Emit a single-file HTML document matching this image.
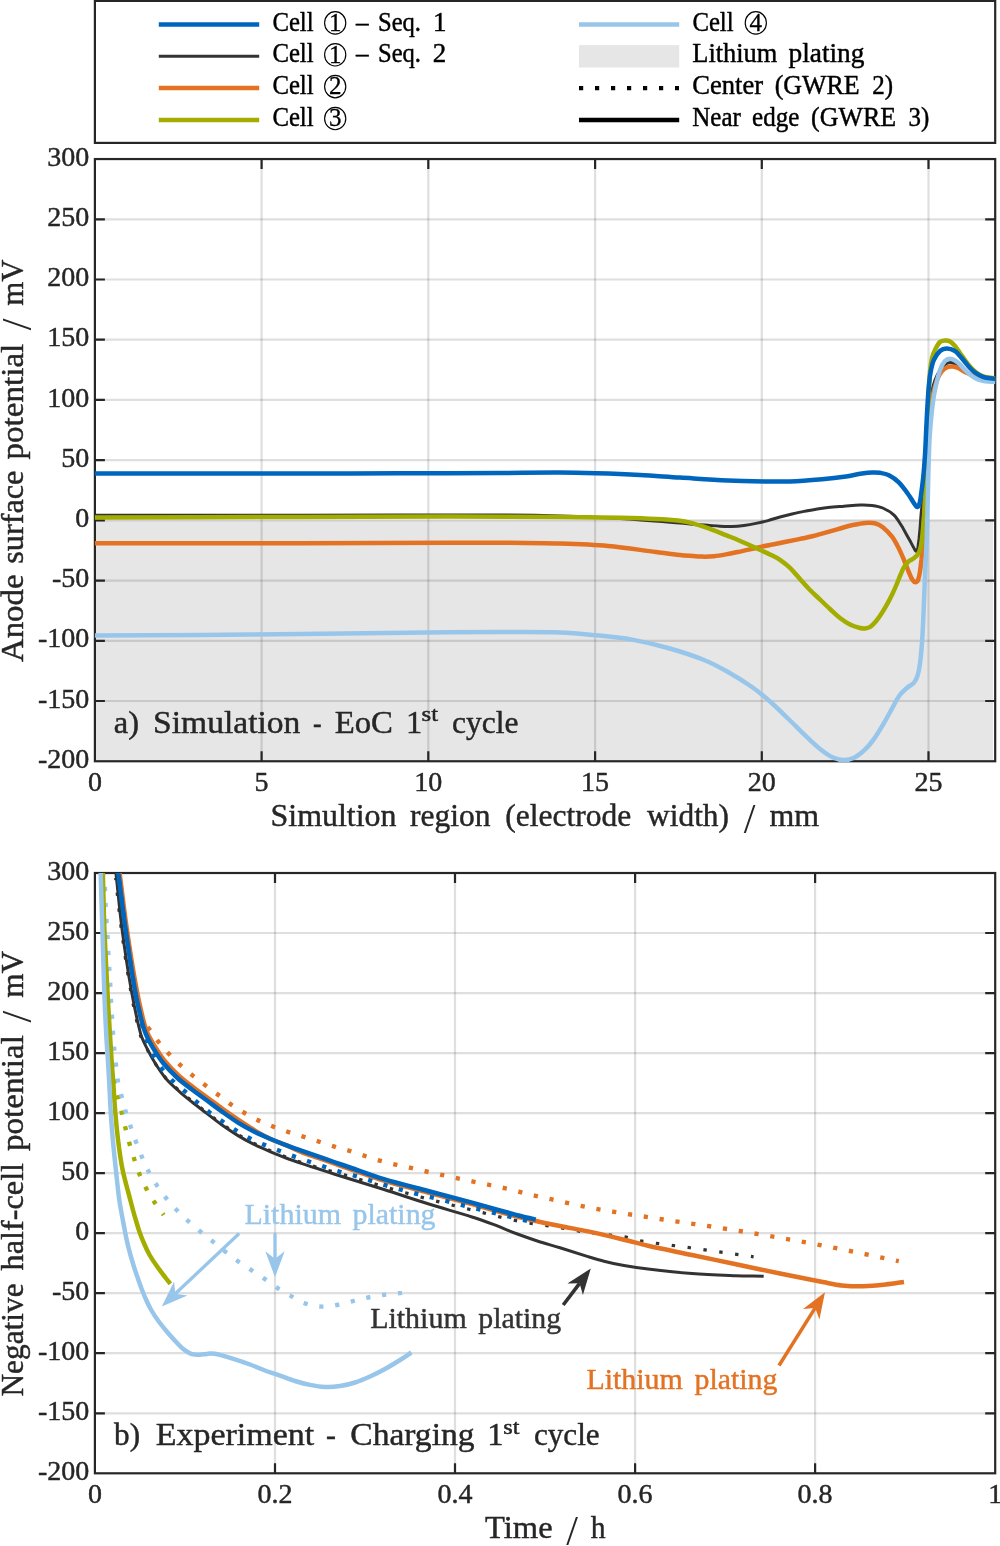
<!DOCTYPE html>
<html lang="en"><head><meta charset="utf-8"><title>Anode potential: simulation and experiment</title>
<style>html,body{margin:0;padding:0;background:#fff}svg{display:block}text{font-family:"Liberation Serif", "DejaVu Serif", serif;fill:#262626;stroke:#262626;stroke-width:.45px;stroke-linejoin:round}.sl{font-size:42px;stroke:none}.tk{font-size:28px}.lb{font-size:32.5px}.an{font-size:30px}.sp{font-size:21px}.lg{font-size:27px;fill:#000;stroke:#000}.cd{font-size:25px;fill:#000;stroke:#000;stroke-width:.3px}.c{fill:none;stroke-width:4;stroke-linejoin:round;stroke-linecap:butt}.dt{stroke-dasharray:4 12}.gr{stroke:#262626;stroke-opacity:.15;stroke-width:2.2;fill:none}.ax{stroke:#262626;stroke-width:2.2;fill:none;stroke-linecap:square}</style></head><body>
<svg width="1000" height="1546" viewBox="0 0 1000 1546">
<rect width="1000" height="1546" fill="#fff"/>
<defs><clipPath id="c1"><rect x="94.9" y="159.05" width="900.3" height="603.4"/></clipPath><clipPath id="c2"><rect x="94.9" y="873.0" width="900.3" height="600.3"/></clipPath></defs>
<rect x="94.9" y="0.9" width="900.3" height="142" fill="#fff" stroke="#262626" stroke-width="2.2"/>
<line x1="158.8" y1="24.4" x2="259.2" y2="24.4" stroke="#0065BD" stroke-width="4.5"/>
<line x1="158.8" y1="56.3" x2="259.2" y2="56.3" stroke="#333333" stroke-width="3"/>
<line x1="158.8" y1="88.1" x2="259.2" y2="88.1" stroke="#E37222" stroke-width="4.5"/>
<line x1="158.8" y1="120.0" x2="259.2" y2="120.0" stroke="#A2AD00" stroke-width="4.5"/>
<line x1="579" y1="24.4" x2="679.2" y2="24.4" stroke="#98C6EA" stroke-width="4.5"/>
<rect x="579" y="45.1" width="100.2" height="22.4" fill="#E6E6E6"/>
<line x1="579" y1="88.1" x2="679" y2="88.1" stroke="#000" stroke-width="4.2" stroke-dasharray="4.2 11.8"/>
<line x1="579" y1="120.0" x2="679.2" y2="120.0" stroke="#000" stroke-width="4.4"/>
<ellipse cx="335.2" cy="22.9" rx="10.6" ry="11.2" fill="none" stroke="#000" stroke-width="1.15"/>
<text class="lg"><tspan x="272.4" y="30.5" textLength="41.2" lengthAdjust="spacingAndGlyphs">Cell</tspan> <tspan class="cd" x="328.95" y="30.7">1</tspan> <tspan x="356.0" y="30.5" textLength="12.6" lengthAdjust="spacingAndGlyphs">–</tspan> <tspan x="378.0" y="30.5" textLength="43.0" lengthAdjust="spacingAndGlyphs">Seq.</tspan> <tspan x="433.05" y="30.5">1</tspan></text>
<ellipse cx="335.2" cy="54.8" rx="10.6" ry="11.2" fill="none" stroke="#000" stroke-width="1.15"/>
<text class="lg"><tspan x="272.4" y="62.4" textLength="41.2" lengthAdjust="spacingAndGlyphs">Cell</tspan> <tspan class="cd" x="328.95" y="62.6">1</tspan> <tspan x="356.0" y="62.4" textLength="12.6" lengthAdjust="spacingAndGlyphs">–</tspan> <tspan x="378.0" y="62.4" textLength="43.0" lengthAdjust="spacingAndGlyphs">Seq.</tspan> <tspan x="432.75" y="62.4">2</tspan></text>
<ellipse cx="335.2" cy="86.6" rx="10.6" ry="11.2" fill="none" stroke="#000" stroke-width="1.15"/>
<text class="lg"><tspan x="272.4" y="94.2" textLength="41.2" lengthAdjust="spacingAndGlyphs">Cell</tspan> <tspan class="cd" x="328.95" y="94.4">2</tspan></text>
<ellipse cx="335.2" cy="118.5" rx="10.6" ry="11.2" fill="none" stroke="#000" stroke-width="1.15"/>
<text class="lg"><tspan x="272.4" y="126.0" textLength="41.2" lengthAdjust="spacingAndGlyphs">Cell</tspan> <tspan class="cd" x="328.95" y="126.3">3</tspan></text>
<ellipse cx="755.8" cy="22.9" rx="10.6" ry="11.2" fill="none" stroke="#000" stroke-width="1.15"/>
<text class="lg"><tspan x="692.4" y="30.5" textLength="41.2" lengthAdjust="spacingAndGlyphs">Cell</tspan> <tspan class="cd" x="749.55" y="30.7">4</tspan></text>
<text class="lg"><tspan x="692.3" y="62.4" textLength="85.0" lengthAdjust="spacingAndGlyphs">Lithium</tspan> <tspan x="788.5" y="62.4" textLength="75.9" lengthAdjust="spacingAndGlyphs">plating</tspan></text>
<text class="lg"><tspan x="692.3" y="94.2" textLength="70.7" lengthAdjust="spacingAndGlyphs">Center</tspan> <tspan x="774.7" y="94.2" textLength="85.0" lengthAdjust="spacingAndGlyphs">(GWRE</tspan> <tspan x="872.2" y="94.2" textLength="20.8" lengthAdjust="spacingAndGlyphs">2)</tspan></text>
<text class="lg"><tspan x="692.3" y="126.0" textLength="48.6" lengthAdjust="spacingAndGlyphs">Near</tspan> <tspan x="752.1" y="126.0" textLength="47.3" lengthAdjust="spacingAndGlyphs">edge</tspan> <tspan x="811.1" y="126.0" textLength="85.0" lengthAdjust="spacingAndGlyphs">(GWRE</tspan> <tspan x="908.6" y="126.0" textLength="20.8" lengthAdjust="spacingAndGlyphs">3)</tspan></text>
<rect x="94.9" y="520.3" width="898.1" height="239.9" fill="#E6E6E6"/>
<line class="gr" x1="261.6" y1="159.05" x2="261.6" y2="761.2"/>
<line class="gr" x1="428.3" y1="159.05" x2="428.3" y2="761.2"/>
<line class="gr" x1="595.1" y1="159.05" x2="595.1" y2="761.2"/>
<line class="gr" x1="761.8" y1="159.05" x2="761.8" y2="761.2"/>
<line class="gr" x1="928.5" y1="159.05" x2="928.5" y2="761.2"/>
<line class="gr" x1="94.9" y1="219.3" x2="995.2" y2="219.3"/>
<line class="gr" x1="94.9" y1="279.5" x2="995.2" y2="279.5"/>
<line class="gr" x1="94.9" y1="339.7" x2="995.2" y2="339.7"/>
<line class="gr" x1="94.9" y1="399.9" x2="995.2" y2="399.9"/>
<line class="gr" x1="94.9" y1="460.1" x2="995.2" y2="460.1"/>
<line class="gr" x1="94.9" y1="520.3" x2="995.2" y2="520.3"/>
<line class="gr" x1="94.9" y1="580.6" x2="995.2" y2="580.6"/>
<line class="gr" x1="94.9" y1="640.8" x2="995.2" y2="640.8"/>
<line class="gr" x1="94.9" y1="701.0" x2="995.2" y2="701.0"/>
<rect class="ax" x="94.9" y="159.05" width="900.3" height="602.2"/>
<path class="ax" style="stroke-linecap:butt" d="M261.6 159.05v10M261.6 761.2v-10M428.3 159.05v10M428.3 761.2v-10M595.1 159.05v10M595.1 761.2v-10M761.8 159.05v10M761.8 761.2v-10M928.5 159.05v10M928.5 761.2v-10M94.9 219.3h10M995.2 219.3h-10M94.9 279.5h10M995.2 279.5h-10M94.9 339.7h10M995.2 339.7h-10M94.9 399.9h10M995.2 399.9h-10M94.9 460.1h10M995.2 460.1h-10M94.9 520.3h10M995.2 520.3h-10M94.9 580.6h10M995.2 580.6h-10M94.9 640.8h10M995.2 640.8h-10M94.9 701.0h10M995.2 701.0h-10"/>
<text class="tk" x="94.9" y="790.7" text-anchor="middle">0</text>
<text class="tk" x="261.6" y="790.7" text-anchor="middle">5</text>
<text class="tk" x="428.3" y="790.7" text-anchor="middle">10</text>
<text class="tk" x="595.1" y="790.7" text-anchor="middle">15</text>
<text class="tk" x="761.8" y="790.7" text-anchor="middle">20</text>
<text class="tk" x="928.5" y="790.7" text-anchor="middle">25</text>
<text class="tk" x="89.3" y="165.7" text-anchor="end">300</text>
<text class="tk" x="89.3" y="225.9" text-anchor="end">250</text>
<text class="tk" x="89.3" y="286.1" text-anchor="end">200</text>
<text class="tk" x="89.3" y="346.3" text-anchor="end">150</text>
<text class="tk" x="89.3" y="406.5" text-anchor="end">100</text>
<text class="tk" x="89.3" y="466.7" text-anchor="end">50</text>
<text class="tk" x="89.3" y="526.9" text-anchor="end">0</text>
<text class="tk" x="89.3" y="587.2" text-anchor="end">-50</text>
<text class="tk" x="89.3" y="647.4" text-anchor="end">-100</text>
<text class="tk" x="89.3" y="707.6" text-anchor="end">-150</text>
<text class="tk" x="89.3" y="767.8" text-anchor="end">-200</text>
<g clip-path="url(#c1)">
<path class="c" stroke="#333333" style="stroke-width:3" d="M94.0 515.3C162.7 515.3 231.3 515.3 300.0 515.2C366.7 515.2 433.3 514.8 500.0 515.0C520.0 515.1 540.0 515.4 560.0 516.0C580.0 516.6 600.0 517.3 620.0 518.5C640.0 519.7 660.0 521.4 680.0 523.0C685.3 523.4 690.7 524.0 696.0 524.4C700.0 524.7 704.0 525.0 708.0 525.3C712.0 525.6 716.0 526.0 720.0 526.2C724.0 526.4 728.0 526.5 732.0 526.4C736.0 526.3 740.0 525.9 744.0 525.4C748.0 524.9 752.0 524.2 756.0 523.4C760.0 522.6 764.0 521.7 768.0 520.6C772.0 519.5 776.0 518.1 780.0 517.0C784.0 515.9 788.0 514.9 792.0 514.0C796.0 513.1 800.0 512.2 804.0 511.4C808.0 510.6 812.0 509.9 816.0 509.2C820.0 508.6 824.0 507.9 828.0 507.5C833.3 506.9 838.7 506.6 844.0 506.2C849.3 505.8 854.7 505.2 860.0 505.0C864.0 504.9 868.1 504.9 872.0 505.4C875.7 505.9 879.5 506.5 882.8 508.0C886.8 509.8 890.9 512.2 894.0 515.2C897.3 518.3 899.4 522.6 902.0 526.4C902.8 527.5 903.3 528.8 904.0 530.0C906.0 533.6 908.0 537.2 910.0 540.8C911.4 543.4 912.7 546.1 914.2 548.6C914.8 549.7 915.7 551.7 916.3 551.6C916.9 551.5 917.5 549.3 917.8 548.0C918.4 545.1 918.6 542.0 919.0 539.0C919.3 536.0 919.6 533.0 919.9 530.0C920.4 524.0 920.7 518.0 921.3 512.0C922.1 504.0 923.4 496.0 924.0 488.0C925.0 475.4 925.3 462.7 926.0 450.0C926.6 440.0 927.1 430.0 928.0 420.0C928.8 411.6 929.6 403.2 931.0 395.0C931.9 389.9 933.3 384.8 935.0 380.0C936.3 376.5 938.0 373.1 940.0 370.0C941.3 367.9 943.1 365.9 945.0 364.5C946.4 363.4 948.3 362.6 950.0 362.5C951.6 362.4 953.4 363.3 955.0 364.0C956.8 364.8 958.4 365.9 960.0 367.0C963.4 369.3 966.5 372.1 970.0 374.0C973.1 375.7 976.5 377.3 980.0 378.0C985.2 379.1 990.7 379.0 996.0 379.5"/>
<path class="c" stroke="#E37222" style="stroke-width:4.5" d="M94.0 543.2C162.7 543.2 231.3 543.3 300.0 543.2C350.0 543.1 400.0 542.8 450.0 542.7C466.7 542.7 483.3 542.6 500.0 542.7C520.0 542.9 540.0 543.0 560.0 543.6C576.0 544.1 592.1 544.6 608.0 546.0C624.1 547.4 640.0 550.0 656.0 552.0C664.0 553.0 672.0 554.1 680.0 555.0C683.3 555.4 686.7 555.6 690.0 555.8C694.0 556.1 698.0 556.5 702.0 556.6C706.0 556.7 710.0 556.6 714.0 556.2C718.0 555.8 722.0 555.1 726.0 554.4C730.0 553.7 734.0 552.8 738.0 552.0C742.0 551.2 746.0 550.3 750.0 549.4C754.0 548.5 758.0 547.5 762.0 546.6C766.0 545.7 770.0 545.0 774.0 544.2C778.0 543.4 782.0 542.6 786.0 541.8C790.0 541.0 794.0 540.2 798.0 539.4C802.0 538.6 806.0 537.8 810.0 536.8C814.0 535.8 818.0 534.7 822.0 533.6C827.3 532.1 832.7 530.6 838.0 529.1C843.3 527.6 848.6 526.0 854.0 524.8C857.7 524.0 861.4 523.2 865.2 522.9C868.4 522.7 871.8 522.5 874.8 523.2C877.6 523.9 880.5 525.4 882.8 527.2C886.2 529.9 889.3 533.2 892.0 536.6C894.4 539.7 896.2 543.3 898.0 546.8C900.2 551.1 902.1 555.6 904.0 560.0C905.7 564.0 907.1 568.0 908.8 572.0C909.9 574.6 910.9 577.5 912.4 579.8C913.1 580.9 914.4 582.2 915.4 582.2C916.3 582.2 917.6 580.9 918.1 579.8C919.1 577.5 919.5 574.6 919.9 572.0C920.6 568.0 920.9 564.0 921.4 560.0C921.8 556.0 922.3 552.0 922.6 548.0C923.2 538.7 923.5 529.3 924.0 520.0C924.7 506.7 925.3 493.3 926.0 480.0C926.7 466.7 927.2 453.3 928.0 440.0C928.5 431.7 929.1 423.3 930.0 415.0C930.7 408.3 931.7 401.6 933.0 395.0C934.0 389.9 935.2 384.8 937.0 380.0C938.2 376.8 939.8 373.5 942.0 371.0C943.5 369.2 945.8 367.9 948.0 367.0C949.5 366.4 951.4 366.3 953.0 366.5C954.7 366.7 956.4 367.3 958.0 368.0C960.4 369.1 962.6 370.8 965.0 372.0C968.3 373.6 971.5 375.4 975.0 376.5C978.2 377.5 981.6 378.0 985.0 378.5C988.6 379.0 992.3 379.2 996.0 379.5"/>
<path class="c" stroke="#A2AD00" style="stroke-width:4.5" d="M94.0 517.4C162.7 517.3 231.3 517.2 300.0 517.0C350.0 516.9 400.0 516.5 450.0 516.5C486.7 516.5 523.3 516.7 560.0 517.0C580.0 517.2 600.0 517.4 620.0 517.8C632.0 518.1 644.0 518.4 656.0 519.0C664.0 519.4 672.0 519.9 680.0 520.7C683.4 521.1 686.7 521.8 690.0 522.6C694.0 523.6 698.0 524.9 702.0 526.2C706.0 527.5 710.0 528.9 714.0 530.4C718.0 531.9 722.0 533.6 726.0 535.2C730.0 536.8 734.0 538.3 738.0 540.0C742.0 541.7 746.0 543.6 750.0 545.4C754.0 547.2 758.0 549.0 762.0 550.8C764.7 552.0 767.4 553.1 770.0 554.4C773.4 556.1 776.9 557.7 780.0 559.8C783.5 562.2 786.9 564.9 790.0 567.8C793.6 571.3 796.7 575.3 800.0 579.0C803.3 582.7 806.5 586.5 810.0 590.0C813.2 593.3 816.7 596.3 820.0 599.5C823.3 602.7 826.6 605.9 830.0 609.0C833.3 612.0 836.5 615.3 840.0 618.0C843.1 620.4 846.5 622.7 850.0 624.5C853.1 626.1 856.6 627.1 860.0 628.0C861.6 628.4 863.4 628.7 865.0 628.5C866.9 628.3 869.0 627.9 870.5 626.8C873.3 624.7 875.8 621.6 878.0 618.7C881.0 614.8 883.5 610.5 886.0 606.2C888.2 602.5 890.1 598.7 892.0 594.8C893.7 591.3 895.3 587.6 896.8 584.0C898.1 581.0 899.1 578.0 900.4 575.0C901.5 572.4 902.6 569.6 904.0 567.2C905.2 565.2 906.6 563.3 908.2 561.8C909.6 560.5 911.5 559.9 913.0 558.8C914.5 557.7 916.1 556.6 917.2 555.2C918.5 553.4 919.6 551.3 920.2 549.2C921.2 545.9 921.5 542.4 922.0 539.0C922.4 536.0 922.6 533.0 922.9 530.0C923.4 524.0 924.0 518.0 924.4 512.0C924.9 504.0 925.4 496.0 925.7 488.0C926.3 472.0 926.5 456.0 927.0 440.0C927.4 426.7 927.9 413.3 928.5 400.0C928.9 390.7 929.2 381.3 930.0 372.0C930.4 367.3 931.0 362.6 932.0 358.0C932.6 355.2 933.7 352.5 935.0 350.0C936.4 347.2 937.9 344.0 940.0 342.0C941.2 340.9 943.3 340.6 945.0 340.5C946.6 340.4 948.6 340.7 950.0 341.5C951.9 342.5 953.5 344.3 955.0 346.0C956.9 348.2 958.3 350.7 960.0 353.0C961.7 355.3 963.3 357.7 965.0 360.0C966.6 362.2 968.2 364.4 970.0 366.5C971.5 368.3 973.2 370.0 975.0 371.5C976.5 372.8 978.2 374.0 980.0 375.0C981.6 375.9 983.3 376.6 985.0 377.0C988.6 377.8 992.3 378.0 996.0 378.5"/>
<path class="c" stroke="#98C6EA" style="stroke-width:4.5" d="M94.0 635.5C129.3 635.3 164.7 635.3 200.0 635.0C233.3 634.8 266.7 634.4 300.0 634.0C342.7 633.5 385.3 632.9 428.0 632.5C452.0 632.3 476.0 632.0 500.0 632.0C520.0 632.0 540.0 631.7 560.0 632.4C572.0 632.8 584.0 634.1 596.0 635.3C608.0 636.5 620.1 637.5 632.0 639.6C644.1 641.7 656.2 644.6 668.0 648.0C680.2 651.4 692.3 655.3 704.0 660.0C712.3 663.3 720.2 667.6 728.0 672.0C736.2 676.6 744.3 681.6 752.0 687.0C758.3 691.4 764.2 696.4 770.0 701.5C776.2 706.9 782.1 712.8 788.0 718.5C794.1 724.3 799.9 730.4 806.0 736.2C810.7 740.6 815.3 745.2 820.4 749.2C824.3 752.3 828.5 755.4 833.0 757.5C836.3 759.0 840.2 760.1 843.8 760.1C847.4 760.1 851.4 759.1 854.6 757.5C858.6 755.5 862.2 752.3 865.4 749.2C868.8 746.0 871.7 742.2 874.4 738.4C877.7 733.8 880.5 728.9 883.4 724.0C886.5 718.7 889.4 713.2 892.4 707.8C894.8 703.6 896.8 699.1 899.6 695.2C901.6 692.5 904.3 690.2 906.8 688.0C909.1 686.0 912.1 684.8 914.0 682.6C915.7 680.6 916.9 678.0 917.6 675.4C919.0 670.8 919.7 665.8 920.3 661.0C921.2 654.4 921.6 647.8 922.1 641.2C922.7 632.8 923.0 624.4 923.4 616.0C923.9 604.0 924.3 592.0 924.8 580.0C925.4 565.3 926.3 550.7 926.8 536.0C927.5 514.7 927.8 493.3 928.4 472.0C928.7 461.3 929.0 450.7 929.5 440.0C929.8 433.3 930.4 426.7 931.0 420.0C931.6 414.0 932.2 408.0 933.0 402.0C933.5 398.0 934.1 394.0 935.0 390.0C936.5 383.3 937.8 376.4 940.0 370.0C941.1 366.8 942.8 363.4 945.0 361.0C946.2 359.7 948.3 358.9 950.0 358.8C951.6 358.7 953.5 359.6 955.0 360.5C956.8 361.5 958.5 363.0 960.0 364.5C961.8 366.2 963.3 368.3 965.0 370.0C966.6 371.6 968.3 373.1 970.0 374.5C971.6 375.8 973.2 377.0 975.0 378.0C976.6 378.9 978.3 379.5 980.0 380.0C981.6 380.5 983.3 381.0 985.0 381.2C988.6 381.6 992.3 381.6 996.0 381.8"/>
<path class="c" stroke="#0065BD" style="stroke-width:4.5" d="M94.0 473.5C129.3 473.5 164.7 473.5 200.0 473.5C233.3 473.5 266.7 473.5 300.0 473.5C333.3 473.5 366.7 473.4 400.0 473.3C433.3 473.2 466.7 473.1 500.0 473.0C520.0 472.9 540.0 472.5 560.0 472.6C572.0 472.6 584.0 472.9 596.0 473.3C610.7 473.7 625.3 474.2 640.0 475.0C653.3 475.7 666.7 476.8 680.0 477.6C696.0 478.6 712.0 479.8 728.0 480.5C740.0 481.0 752.0 481.2 764.0 481.4C772.7 481.5 781.3 481.7 790.0 481.4C800.7 481.0 811.4 480.1 822.0 479.2C830.0 478.5 838.0 477.6 846.0 476.5C851.4 475.7 856.6 474.4 862.0 473.6C865.3 473.1 868.7 472.6 872.0 472.5C874.7 472.4 877.4 472.4 880.0 472.8C883.0 473.3 886.3 473.8 889.0 475.2C892.5 477.0 896.0 479.6 898.8 482.4C902.4 486.0 905.4 490.3 908.4 494.5C910.3 497.0 911.8 499.9 913.5 502.5C914.3 503.7 915.1 505.0 916.0 506.0C916.4 506.5 917.2 507.2 917.6 507.0C918.3 506.7 918.9 505.4 919.2 504.5C919.9 502.4 920.3 500.2 920.6 498.0C921.6 490.9 922.6 483.7 923.3 476.5C924.1 468.8 924.6 461.0 925.1 453.2C925.6 445.4 925.8 437.7 926.2 429.9C926.6 422.1 926.9 414.4 927.4 406.6C927.9 398.8 928.3 391.0 929.1 383.3C929.5 378.8 930.1 374.4 931.0 370.0C931.7 366.6 932.3 363.1 933.8 360.0C935.3 356.8 937.4 353.3 940.0 351.0C941.8 349.4 944.6 348.5 947.0 348.5C949.6 348.5 952.6 349.6 955.0 351.0C957.0 352.1 958.4 354.3 960.0 356.0C961.7 357.9 963.3 360.0 965.0 362.0C966.7 364.0 968.2 366.1 970.0 368.0C971.5 369.6 973.2 371.2 975.0 372.5C976.5 373.7 978.3 374.6 980.0 375.5C981.6 376.3 983.3 377.1 985.0 377.5C988.6 378.3 992.3 378.5 996.0 379.0"/>
</g>
<text class="lb"><tspan x="113.8" y="732.8" textLength="25.3" lengthAdjust="spacingAndGlyphs">a)</tspan> <tspan x="153.0" y="732.8" textLength="147.4" lengthAdjust="spacingAndGlyphs">Simulation</tspan> <tspan x="313.0" y="732.8" textLength="8.6" lengthAdjust="spacingAndGlyphs">-</tspan> <tspan x="334.7" y="732.8" textLength="58.3" lengthAdjust="spacingAndGlyphs">EoC</tspan> <tspan x="405.98" y="732.8">1</tspan><tspan class="sp" x="421.6" y="721.4" textLength="16.5" lengthAdjust="spacingAndGlyphs">st</tspan> <tspan x="452.0" y="732.8" textLength="66.4" lengthAdjust="spacingAndGlyphs">cycle</tspan></text>
<text class="lb"><tspan x="270.5" y="825.9" textLength="126.0" lengthAdjust="spacingAndGlyphs">Simultion</tspan> <tspan x="410.0" y="825.9" textLength="80.4" lengthAdjust="spacingAndGlyphs">region</tspan> <tspan x="505.3" y="825.9" textLength="125.8" lengthAdjust="spacingAndGlyphs">(electrode</tspan> <tspan x="647.1" y="825.9" textLength="81.9" lengthAdjust="spacingAndGlyphs">width)</tspan> <tspan class="sl" x="743.76" y="833.2">/</tspan> <tspan x="769.5" y="825.9" textLength="49.6" lengthAdjust="spacingAndGlyphs">mm</tspan></text>
<text class="lb" transform="translate(23.4 0) rotate(-90)"><tspan x="-662.0" y="0" textLength="87.5" lengthAdjust="spacingAndGlyphs">Anode</tspan> <tspan x="-563.8" y="0" textLength="93.2" lengthAdjust="spacingAndGlyphs">surface</tspan> <tspan x="-459.5" y="0" textLength="115.8" lengthAdjust="spacingAndGlyphs">potential</tspan> <tspan class="sl" x="-330.14" y="7.3">/</tspan> <tspan x="-305.7" y="0" textLength="46.2" lengthAdjust="spacingAndGlyphs">mV</tspan></text>
<line class="gr" x1="275.0" y1="873.0" x2="275.0" y2="1473.3"/>
<line class="gr" x1="455.0" y1="873.0" x2="455.0" y2="1473.3"/>
<line class="gr" x1="635.1" y1="873.0" x2="635.1" y2="1473.3"/>
<line class="gr" x1="815.1" y1="873.0" x2="815.1" y2="1473.3"/>
<line class="gr" x1="94.9" y1="933.0" x2="995.2" y2="933.0"/>
<line class="gr" x1="94.9" y1="993.1" x2="995.2" y2="993.1"/>
<line class="gr" x1="94.9" y1="1053.1" x2="995.2" y2="1053.1"/>
<line class="gr" x1="94.9" y1="1113.1" x2="995.2" y2="1113.1"/>
<line class="gr" x1="94.9" y1="1173.2" x2="995.2" y2="1173.2"/>
<line class="gr" x1="94.9" y1="1233.2" x2="995.2" y2="1233.2"/>
<line class="gr" x1="94.9" y1="1293.2" x2="995.2" y2="1293.2"/>
<line class="gr" x1="94.9" y1="1353.2" x2="995.2" y2="1353.2"/>
<line class="gr" x1="94.9" y1="1413.3" x2="995.2" y2="1413.3"/>
<rect class="ax" x="94.9" y="873.0" width="900.3" height="600.3"/>
<path class="ax" style="stroke-linecap:butt" d="M275.0 873.0v10M275.0 1473.3v-10M455.0 873.0v10M455.0 1473.3v-10M635.1 873.0v10M635.1 1473.3v-10M815.1 873.0v10M815.1 1473.3v-10M94.9 933.0h10M995.2 933.0h-10M94.9 993.1h10M995.2 993.1h-10M94.9 1053.1h10M995.2 1053.1h-10M94.9 1113.1h10M995.2 1113.1h-10M94.9 1173.2h10M995.2 1173.2h-10M94.9 1233.2h10M995.2 1233.2h-10M94.9 1293.2h10M995.2 1293.2h-10M94.9 1353.2h10M995.2 1353.2h-10M94.9 1413.3h10M995.2 1413.3h-10"/>
<text class="tk" x="94.9" y="1502.8" text-anchor="middle">0</text>
<text class="tk" x="275.0" y="1502.8" text-anchor="middle">0.2</text>
<text class="tk" x="455.0" y="1502.8" text-anchor="middle">0.4</text>
<text class="tk" x="635.1" y="1502.8" text-anchor="middle">0.6</text>
<text class="tk" x="815.1" y="1502.8" text-anchor="middle">0.8</text>
<text class="tk" x="995.2" y="1502.8" text-anchor="middle">1</text>
<text class="tk" x="89.3" y="879.6" text-anchor="end">300</text>
<text class="tk" x="89.3" y="939.6" text-anchor="end">250</text>
<text class="tk" x="89.3" y="999.7" text-anchor="end">200</text>
<text class="tk" x="89.3" y="1059.7" text-anchor="end">150</text>
<text class="tk" x="89.3" y="1119.7" text-anchor="end">100</text>
<text class="tk" x="89.3" y="1179.8" text-anchor="end">50</text>
<text class="tk" x="89.3" y="1239.8" text-anchor="end">0</text>
<text class="tk" x="89.3" y="1299.8" text-anchor="end">-50</text>
<text class="tk" x="89.3" y="1359.8" text-anchor="end">-100</text>
<text class="tk" x="89.3" y="1419.9" text-anchor="end">-150</text>
<text class="tk" x="89.3" y="1479.9" text-anchor="end">-200</text>
<g clip-path="url(#c2)">
<path class="c dt" stroke="#333333" style="stroke-width:3.2;stroke-dasharray:3.4 12.6;stroke-dashoffset:1.4" d="M115.6 878.0C117.5 895.2 119.1 912.4 121.4 929.5C124.1 949.4 126.9 969.3 130.4 989.0C133.1 1004.0 135.9 1019.0 139.9 1033.6C141.3 1038.7 144.1 1043.3 146.5 1048.0C149.1 1053.0 151.8 1058.0 154.8 1062.8C158.1 1067.9 161.4 1073.1 165.4 1077.6C170.0 1082.7 175.3 1087.2 180.5 1091.8C184.2 1095.0 188.1 1098.0 192.0 1101.0C196.6 1104.6 201.3 1108.2 206.0 1111.8C211.3 1115.9 216.5 1120.1 222.0 1124.0C227.2 1127.7 232.5 1131.3 238.0 1134.6C243.2 1137.8 248.6 1140.7 254.0 1143.4C259.2 1146.0 264.6 1148.3 270.0 1150.6C275.3 1152.8 280.6 1155.0 286.0 1157.0C291.3 1159.0 296.6 1160.8 302.0 1162.6C307.3 1164.3 312.6 1165.9 318.0 1167.5C323.3 1169.1 328.7 1170.5 334.0 1172.0C339.3 1173.5 344.7 1174.9 350.0 1176.5C361.7 1179.9 373.3 1183.6 385.0 1187.0C400.0 1191.3 414.9 1195.5 430.0 1199.5C445.3 1203.5 460.6 1207.2 476.0 1211.0C490.6 1214.6 505.2 1218.5 520.0 1221.5C529.4 1223.4 539.1 1224.3 548.6 1225.8C561.8 1227.9 574.8 1230.6 588.0 1232.5C600.0 1234.2 612.1 1234.9 624.0 1236.8C630.6 1237.9 637.0 1240.3 643.6 1241.4C659.7 1244.0 675.9 1245.7 692.0 1248.0C712.5 1250.9 733.1 1253.9 753.6 1256.8"/>
<path class="c dt" stroke="#E37222" style="stroke-width:4.4;stroke-dasharray:4.2 11.8;stroke-dashoffset:3.2" d="M118.5 874.5C120.9 892.8 123.0 911.2 125.6 929.5C128.4 949.4 131.3 969.2 134.7 989.0C136.4 999.0 137.6 1009.4 141.1 1018.7C142.8 1023.2 147.3 1026.3 150.3 1030.3C153.4 1034.5 156.1 1039.1 159.4 1043.2C162.7 1047.4 166.4 1051.3 170.1 1055.1C173.8 1059.0 177.7 1062.7 181.7 1066.3C185.7 1069.9 189.8 1073.3 194.0 1076.6C198.1 1079.9 202.3 1083.0 206.5 1086.2C210.7 1089.4 215.1 1092.4 219.3 1095.6C223.6 1098.8 227.6 1102.2 232.0 1105.2C236.4 1108.2 240.9 1110.9 245.5 1113.5C250.2 1116.2 255.1 1118.9 260.0 1121.2C264.7 1123.4 269.6 1125.2 274.5 1127.1C279.5 1129.0 284.5 1130.7 289.5 1132.4C294.6 1134.1 299.8 1135.6 304.9 1137.2C309.9 1138.8 315.0 1140.4 320.0 1142.0C325.1 1143.6 330.2 1145.3 335.3 1146.8C340.1 1148.3 345.1 1149.5 349.9 1151.0C360.2 1154.2 370.3 1158.0 380.7 1160.9C391.0 1163.8 401.6 1165.8 412.0 1168.2C422.3 1170.6 432.7 1172.9 443.0 1175.2C453.4 1177.5 463.8 1179.6 474.2 1181.8C484.6 1184.0 495.1 1186.0 505.5 1188.4C515.9 1190.8 526.1 1193.6 536.5 1196.1C541.6 1197.3 546.8 1198.3 551.9 1199.4C563.9 1202.0 575.9 1205.1 588.0 1207.3C607.9 1211.0 628.0 1214.1 648.0 1217.2C677.3 1221.8 706.7 1225.6 736.0 1230.4C765.4 1235.2 794.7 1240.3 824.0 1245.8C849.0 1250.5 873.9 1256.1 898.8 1261.2"/>
<path class="c dt" stroke="#A2AD00" style="stroke-width:4.4;stroke-dasharray:4.2 11.8;stroke-dashoffset:2.6" d="M102.9 874.5C103.4 892.8 103.7 911.2 104.4 929.5C105.2 949.3 106.3 969.2 107.3 989.0C108.1 1003.9 109.0 1018.7 109.9 1033.6C110.5 1043.5 110.9 1053.4 111.8 1063.3C112.4 1069.6 113.4 1075.8 114.5 1082.0C115.5 1087.3 116.8 1092.5 118.0 1097.8C119.2 1102.9 120.6 1107.9 121.8 1113.0C123.1 1118.1 124.2 1123.2 125.5 1128.3C126.8 1133.5 128.1 1138.7 129.6 1143.9C131.1 1149.2 132.7 1154.4 134.4 1159.6C136.0 1164.6 137.6 1169.6 139.6 1174.4C141.6 1179.2 143.8 1184.0 146.3 1188.6C148.8 1193.3 151.6 1197.8 154.5 1202.2C157.4 1206.6 160.6 1210.7 163.7 1215.0"/>
<path class="c dt" stroke="#98C6EA" style="stroke-width:4.4;stroke-dasharray:4.2 11.8;stroke-dashoffset:5.1" d="M104.6 876.0C104.8 881.2 104.9 886.4 105.1 891.6C105.3 896.8 105.4 902.0 105.7 907.2C105.9 912.1 106.3 917.1 106.6 922.0C106.9 927.5 107.3 932.9 107.6 938.4C107.9 943.9 108.1 949.3 108.4 954.8C108.7 960.0 109.1 965.2 109.4 970.4C109.7 975.6 110.0 980.8 110.3 986.0C110.6 991.4 110.8 996.9 111.1 1002.3C111.4 1007.5 111.8 1012.8 112.1 1018.0C112.4 1023.4 112.7 1028.9 113.1 1034.3C113.5 1039.5 113.8 1044.7 114.3 1049.9C114.8 1055.3 115.5 1060.6 116.1 1066.0C116.7 1071.2 117.1 1076.4 118.0 1081.5C119.0 1086.8 120.5 1091.9 121.8 1097.1C123.1 1102.2 124.4 1107.3 125.9 1112.4C127.4 1117.5 129.3 1122.5 131.0 1127.6C132.7 1132.6 134.4 1137.6 136.2 1142.5C138.1 1147.5 140.0 1152.4 142.1 1157.3C144.2 1162.2 146.3 1167.2 148.8 1171.9C151.3 1176.6 154.1 1181.2 157.0 1185.6C159.9 1190.0 163.1 1194.4 166.4 1198.5C169.8 1202.6 173.4 1206.6 177.1 1210.4C180.7 1214.2 184.5 1217.8 188.4 1221.3C192.4 1224.9 196.5 1228.3 200.6 1231.7C204.5 1235.0 208.5 1238.1 212.5 1241.3C216.7 1244.7 220.8 1248.1 225.0 1251.4C229.2 1254.7 233.3 1257.9 237.6 1261.0C241.9 1264.1 246.5 1266.9 250.9 1269.8C255.2 1272.7 259.6 1275.5 263.9 1278.4C268.2 1281.3 272.2 1284.6 276.5 1287.4C280.8 1290.2 285.3 1292.8 289.8 1295.3C294.5 1298.0 299.0 1301.1 304.0 1303.0C308.8 1304.8 314.1 1306.1 319.3 1306.5C324.4 1306.9 329.7 1306.2 334.8 1305.4C339.9 1304.6 344.9 1303.0 349.9 1301.8C355.1 1300.5 360.2 1299.1 365.4 1298.0C370.5 1296.9 375.7 1296.1 380.9 1295.3C385.9 1294.6 391.0 1294.1 396.0 1293.5C400.8 1293.0 405.6 1292.5 410.4 1292.0"/>
<path class="c" stroke="#333333" style="stroke-width:3" d="M114.5 860.0C115.0 864.8 115.6 869.7 116.1 874.5C118.1 892.8 119.7 911.2 122.1 929.5C124.7 949.4 127.6 969.3 131.1 989.0C133.8 1004.0 136.7 1019.0 140.6 1033.6C142.0 1038.8 144.6 1043.6 147.0 1048.4C149.5 1053.5 152.2 1058.5 155.2 1063.3C158.4 1068.4 161.7 1073.6 165.6 1078.2C170.1 1083.4 175.4 1088.0 180.5 1092.6C184.2 1095.9 188.1 1098.9 192.0 1102.0C196.6 1105.7 201.3 1109.2 206.0 1112.8C211.3 1116.9 216.5 1121.1 222.0 1125.0C227.2 1128.7 232.5 1132.3 238.0 1135.6C243.2 1138.8 248.6 1141.7 254.0 1144.4C259.2 1147.0 264.6 1149.3 270.0 1151.6C275.3 1153.8 280.6 1156.0 286.0 1158.0C291.3 1160.0 296.6 1161.8 302.0 1163.6C307.3 1165.4 312.7 1167.1 318.0 1168.8C323.3 1170.5 328.7 1172.3 334.0 1174.0C339.3 1175.7 344.7 1177.3 350.0 1179.0C361.3 1182.5 372.7 1185.9 384.0 1189.5C398.7 1194.2 413.3 1199.2 428.0 1203.8C442.6 1208.4 457.4 1212.4 472.0 1217.0C479.4 1219.3 486.7 1222.0 494.0 1224.7C501.4 1227.5 508.6 1230.7 516.0 1233.5C523.3 1236.2 530.6 1238.8 538.0 1241.2C545.3 1243.6 552.7 1245.5 560.0 1247.8C569.3 1250.7 578.6 1253.7 588.0 1256.6C593.3 1258.2 598.6 1259.9 604.0 1261.2C610.6 1262.9 617.3 1264.4 624.0 1265.6C632.0 1267.0 640.0 1268.2 648.0 1269.1C662.6 1270.8 677.3 1272.4 692.0 1273.5C706.6 1274.6 721.3 1275.1 736.0 1275.7C745.2 1276.0 754.5 1276.0 763.7 1276.2"/>
<path class="c" stroke="#E37222" style="stroke-width:4.5" d="M117.9 860.0C118.5 864.8 119.2 869.7 119.8 874.5C122.2 892.8 124.2 911.2 126.9 929.5C129.7 949.0 132.8 968.6 136.3 988.0C138.1 998.0 140.3 1007.9 142.7 1017.7C143.9 1022.7 145.3 1027.8 147.3 1032.6C149.3 1037.4 152.1 1041.9 154.9 1046.4C158.0 1051.5 161.2 1056.7 165.0 1061.3C169.3 1066.5 174.1 1071.4 179.1 1076.0C183.6 1080.2 188.7 1083.8 193.6 1087.5C198.2 1091.0 202.9 1094.4 207.6 1097.8C212.9 1101.7 218.2 1105.8 223.6 1109.6C228.9 1113.4 234.2 1117.0 239.6 1120.6C244.7 1124.0 249.8 1127.5 255.0 1130.6C259.9 1133.5 264.9 1136.4 270.0 1138.8C275.2 1141.2 280.7 1143.0 286.0 1145.2C291.4 1147.5 296.6 1150.1 302.0 1152.3C307.2 1154.4 312.7 1156.0 318.0 1157.9C323.3 1159.8 328.7 1161.6 334.0 1163.5C339.3 1165.3 344.7 1167.2 350.0 1169.0C361.3 1172.9 372.5 1177.2 384.0 1180.7C398.5 1185.1 413.3 1188.6 428.0 1192.5C442.7 1196.4 457.4 1200.2 472.0 1204.2C486.7 1208.2 501.3 1212.4 516.0 1216.3C522.6 1218.0 529.2 1219.5 535.8 1221.0C543.8 1222.8 551.9 1224.4 560.0 1226.0C569.3 1227.9 578.7 1229.4 588.0 1231.4C600.0 1234.0 612.0 1236.8 624.0 1239.7C632.0 1241.6 639.9 1244.0 648.0 1245.8C662.6 1249.1 677.3 1251.9 692.0 1255.0C706.7 1258.1 721.3 1261.2 736.0 1264.3C750.7 1267.4 765.3 1270.5 780.0 1273.5C794.7 1276.5 809.3 1279.5 824.0 1282.3C829.8 1283.4 835.7 1284.8 841.6 1285.4C848.9 1286.1 856.3 1286.4 863.6 1286.3C870.9 1286.1 878.3 1285.3 885.6 1284.5C891.8 1283.8 897.9 1282.8 904.0 1281.9"/>
<path class="c" stroke="#A2AD00" style="stroke-width:4.5" d="M102.5 860.0C102.6 864.8 102.8 869.7 102.9 874.5C103.4 892.8 103.7 911.2 104.4 929.5C105.2 949.3 106.3 969.2 107.3 989.0C108.1 1003.9 109.0 1018.7 109.9 1033.6C110.5 1043.5 111.1 1053.4 111.8 1063.3C112.2 1068.9 112.7 1074.4 113.1 1080.0C113.8 1089.9 114.3 1099.8 115.1 1109.7C115.9 1119.6 116.8 1129.6 118.0 1139.5C119.2 1149.4 120.5 1159.4 122.5 1169.2C124.6 1179.6 127.7 1189.7 130.3 1200.0C131.3 1203.7 132.2 1207.3 133.2 1211.0C134.2 1214.7 135.3 1218.3 136.4 1222.0C137.5 1225.7 138.6 1229.4 139.9 1233.0C141.2 1236.7 142.7 1240.4 144.3 1244.0C145.9 1247.7 147.6 1251.5 149.6 1255.0C151.7 1258.8 154.2 1262.4 156.8 1266.0C159.4 1269.8 162.2 1273.4 165.0 1277.0C166.7 1279.3 168.5 1281.5 170.3 1283.8"/>
<path class="c" stroke="#98C6EA" style="stroke-width:4.5" d="M100.2 860.0C100.4 864.8 100.5 869.7 100.7 874.5C101.2 892.8 101.8 911.2 102.4 929.5C103.0 949.3 103.5 969.2 104.2 989.0C104.7 1003.9 105.4 1018.7 106.2 1033.6C106.7 1043.5 107.5 1053.4 108.1 1063.3C108.4 1068.9 108.8 1074.4 109.1 1080.0C109.6 1089.9 110.0 1099.8 110.6 1109.7C111.2 1119.6 111.9 1129.6 112.8 1139.5C113.7 1149.4 114.7 1159.3 115.8 1169.2C116.9 1179.5 117.9 1189.8 119.3 1200.0C120.4 1207.4 121.8 1214.7 123.2 1222.0C124.6 1229.3 125.9 1236.7 127.6 1244.0C129.4 1251.4 131.4 1258.7 133.7 1266.0C136.0 1273.4 138.7 1280.7 141.3 1288.0C142.7 1291.7 144.1 1295.4 145.8 1299.0C147.4 1302.7 149.2 1306.5 151.2 1310.0C153.4 1313.8 155.8 1317.5 158.4 1321.0C161.2 1324.8 164.2 1328.4 167.2 1332.0C170.4 1335.8 173.7 1339.4 177.1 1343.0C178.9 1344.9 180.6 1346.9 182.6 1348.5C184.6 1350.2 186.9 1351.7 189.2 1352.9C190.9 1353.8 192.8 1354.4 194.7 1354.6C197.6 1354.9 200.6 1354.5 203.5 1354.3C205.7 1354.2 207.8 1353.7 210.0 1353.6C211.7 1353.5 213.4 1353.6 215.0 1353.8C216.7 1354.0 218.4 1354.4 220.0 1354.9C225.0 1356.3 230.0 1357.8 235.0 1359.4C240.0 1361.0 245.0 1362.7 250.0 1364.5C255.0 1366.4 260.0 1368.6 265.0 1370.5C270.0 1372.3 275.0 1373.9 280.0 1375.6C285.0 1377.4 289.9 1379.4 295.0 1381.0C299.9 1382.5 304.9 1383.9 310.0 1384.9C314.9 1385.9 320.0 1386.8 325.0 1387.0C330.0 1387.2 335.1 1386.8 340.0 1386.1C345.1 1385.3 350.1 1384.1 355.0 1382.5C360.1 1380.9 365.1 1378.7 370.0 1376.5C375.1 1374.2 380.1 1371.7 385.0 1369.0C390.1 1366.2 395.1 1363.1 400.0 1360.0C403.9 1357.6 407.6 1355.0 411.4 1352.5"/>
<path class="c" stroke="#0065BD" style="stroke-width:4.5" d="M116.6 860.0C117.2 864.8 117.9 869.7 118.5 874.5C120.9 892.8 123.0 911.2 125.6 929.5C128.4 949.4 131.3 969.2 134.7 989.0C136.4 999.0 138.7 1008.9 141.1 1018.7C142.3 1023.7 143.7 1028.8 145.7 1033.6C147.8 1038.7 150.5 1043.6 153.3 1048.4C156.4 1053.5 159.6 1058.7 163.4 1063.3C167.7 1068.5 172.5 1073.4 177.5 1078.0C182.0 1082.2 187.1 1085.8 192.0 1089.5C196.6 1093.0 201.3 1096.4 206.0 1099.8C211.3 1103.7 216.6 1107.8 222.0 1111.6C227.3 1115.4 232.5 1119.2 238.0 1122.6C243.2 1125.8 248.5 1128.8 254.0 1131.6C259.2 1134.2 264.6 1136.5 270.0 1138.8C275.3 1141.0 280.6 1143.2 286.0 1145.2C291.3 1147.2 296.7 1148.9 302.0 1150.8C307.3 1152.7 312.7 1154.5 318.0 1156.4C323.3 1158.3 328.7 1160.1 334.0 1162.0C339.3 1163.8 344.7 1165.7 350.0 1167.5C361.3 1171.4 372.5 1175.7 384.0 1179.2C398.5 1183.6 413.3 1187.1 428.0 1191.0C442.7 1194.9 457.4 1198.7 472.0 1202.7C486.7 1206.7 501.3 1210.9 516.0 1214.8C522.6 1216.5 529.2 1218.0 535.8 1219.6"/>
<path class="c dt" stroke="#0065BD" style="stroke-width:4.4;stroke-dasharray:4.2 11.8;stroke-dashoffset:9.0" d="M118.5 874.5C120.9 892.8 123.0 911.2 125.6 929.5C128.4 949.4 131.3 969.2 134.7 989.0C136.4 999.0 138.6 1008.8 140.8 1018.7C141.9 1023.7 143.0 1028.7 144.5 1033.6C146.0 1038.5 148.0 1043.3 150.0 1048.0C151.6 1051.9 153.0 1056.0 155.2 1059.6C158.0 1064.1 161.4 1068.3 164.9 1072.4C168.4 1076.5 172.1 1080.4 176.0 1084.1C179.7 1087.6 184.0 1090.5 187.9 1093.8C191.9 1097.2 195.6 1101.0 199.6 1104.4C203.5 1107.7 207.5 1110.9 211.6 1114.0C215.8 1117.1 220.1 1119.9 224.4 1122.8C228.6 1125.6 232.9 1128.4 237.2 1131.1C241.6 1133.8 245.9 1136.5 250.5 1138.8C255.0 1141.1 259.7 1143.0 264.4 1144.9C269.3 1147.0 274.3 1148.9 279.3 1150.8C284.2 1152.7 289.1 1154.6 294.0 1156.4C298.9 1158.2 303.9 1159.8 308.9 1161.5C313.8 1163.2 318.7 1164.9 323.6 1166.5C328.6 1168.1 333.5 1169.8 338.5 1171.3C343.7 1172.9 349.1 1174.1 354.3 1175.6C359.5 1177.1 364.6 1178.7 369.7 1180.3C374.8 1181.9 380.0 1183.5 385.1 1185.1C390.1 1186.6 395.0 1188.1 400.0 1189.5C405.1 1190.9 410.3 1192.2 415.5 1193.5C420.5 1194.8 425.6 1196.0 430.6 1197.2C435.7 1198.4 440.9 1199.6 446.0 1200.9C451.1 1202.2 456.3 1203.6 461.4 1204.9C466.4 1206.2 471.4 1207.4 476.4 1208.6C481.4 1209.8 486.4 1211.0 491.4 1212.2C496.3 1213.4 501.2 1214.7 506.1 1215.9C510.9 1217.0 515.6 1218.1 520.4 1219.2C524.8 1220.3 529.2 1221.4 533.6 1222.5"/>
</g>
<text class="lb"><tspan x="114.1" y="1445.2" textLength="26.0" lengthAdjust="spacingAndGlyphs">b)</tspan> <tspan x="155.7" y="1445.2" textLength="158.6" lengthAdjust="spacingAndGlyphs">Experiment</tspan> <tspan x="326.0" y="1445.2" textLength="9.9" lengthAdjust="spacingAndGlyphs">-</tspan> <tspan x="350.3" y="1445.2" textLength="124.2" lengthAdjust="spacingAndGlyphs">Charging</tspan> <tspan x="487.27" y="1445.2">1</tspan><tspan class="sp" x="503.3" y="1433.8" textLength="16.2" lengthAdjust="spacingAndGlyphs">st</tspan> <tspan x="533.9" y="1445.2" textLength="65.8" lengthAdjust="spacingAndGlyphs">cycle</tspan></text>
<text class="lb"><tspan x="485.1" y="1537.7" textLength="67.5" lengthAdjust="spacingAndGlyphs">Time</tspan> <tspan class="sl" x="566.16" y="1545.0">/</tspan> <tspan x="590.7" y="1537.7" textLength="14.8" lengthAdjust="spacingAndGlyphs">h</tspan></text>
<text class="lb" transform="translate(23.2 0) rotate(-90)"><tspan x="-1396.6" y="0" textLength="113.2" lengthAdjust="spacingAndGlyphs">Negative</tspan> <tspan x="-1270.5" y="0" textLength="107.6" lengthAdjust="spacingAndGlyphs">half-cell</tspan> <tspan x="-1151.0" y="0" textLength="115.9" lengthAdjust="spacingAndGlyphs">potential</tspan> <tspan class="sl" x="-1022.59" y="7.3">/</tspan> <tspan x="-997.8" y="0" textLength="46.9" lengthAdjust="spacingAndGlyphs">mV</tspan></text>
<line x1="239.2" y1="1233.5" x2="175.3" y2="1293.7" stroke="#98C6EA" stroke-width="3.3"/><path d="M161.8 1306.4L174.1 1281.5L175.3 1293.7L187.4 1295.6Z" fill="#98C6EA"/>
<line x1="275.0" y1="1233.5" x2="275.0" y2="1258.7" stroke="#98C6EA" stroke-width="3.3"/><path d="M275.0 1277.2L265.3 1251.2L275.0 1258.7L284.7 1251.2Z" fill="#98C6EA"/>
<line x1="563.2" y1="1305.0" x2="579.6" y2="1283.3" stroke="#333333" stroke-width="3.6"/><path d="M590.8 1268.5L582.9 1295.1L579.6 1283.3L567.4 1283.4Z" fill="#333333"/>
<line x1="779.0" y1="1365.5" x2="815.2" y2="1307.9" stroke="#E37222" stroke-width="3.5"/><path d="M825.0 1292.2L819.4 1319.4L815.2 1307.9L803.0 1309.1Z" fill="#E37222"/>
<text class="an" style="fill:#98C6EA;stroke:#98C6EA"><tspan x="244.5" y="1223.6" textLength="96.5" lengthAdjust="spacingAndGlyphs">Lithium</tspan> <tspan x="352.6" y="1223.6" textLength="82.9" lengthAdjust="spacingAndGlyphs">plating</tspan></text>
<text class="an" style="fill:#333333;stroke:#333333"><tspan x="370.2" y="1328.2" textLength="96.5" lengthAdjust="spacingAndGlyphs">Lithium</tspan> <tspan x="478.3" y="1328.2" textLength="82.9" lengthAdjust="spacingAndGlyphs">plating</tspan></text>
<text class="an" style="fill:#E37222;stroke:#E37222"><tspan x="586.4" y="1389.4" textLength="96.5" lengthAdjust="spacingAndGlyphs">Lithium</tspan> <tspan x="694.5" y="1389.4" textLength="82.9" lengthAdjust="spacingAndGlyphs">plating</tspan></text>
</svg></body></html>
